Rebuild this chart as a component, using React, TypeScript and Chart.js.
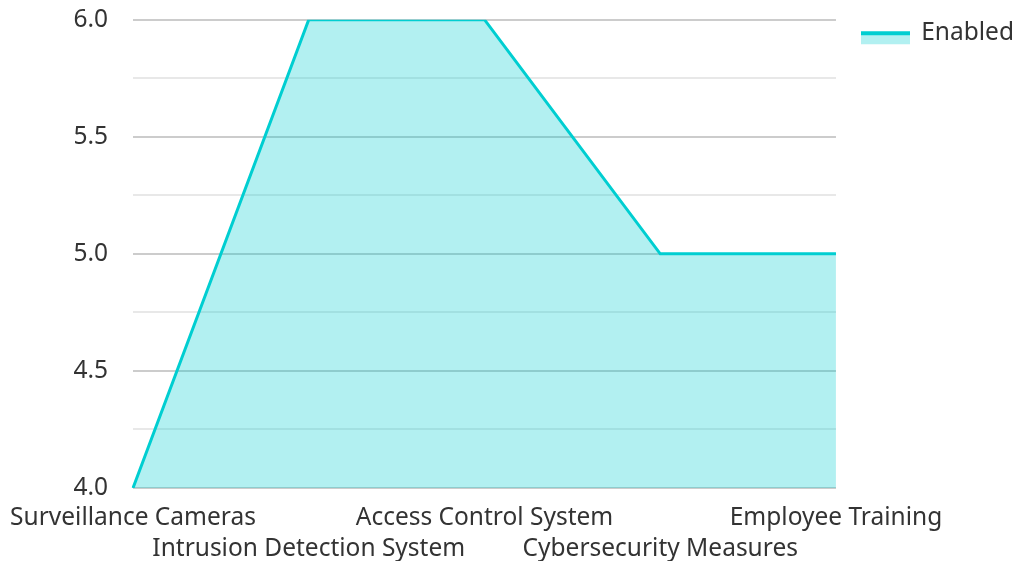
import React, { useEffect, useRef } from "react";
import { Chart, registerables } from "chart.js";

Chart.register(...registerables);

const categories = [
  "Surveillance Cameras",
  "Intrusion Detection System",
  "Access Control System",
  "Cybersecurity Measures",
  "Employee Training",
];
const enabledValues = [4, 6, 6, 5, 5];
const seriesName = "Enabled";
const yMin = 4;
const yMax = 6;

const LINE = "#00CED1";
const FILL = "rgba(0,206,209,0.3)";
const FONT = "'Noto Sans', sans-serif";
const FS = 24.5;

function makeLegendIcon(): HTMLCanvasElement {
  const c = document.createElement("canvas");
  c.width = 49;
  c.height = 28;
  const g = c.getContext("2d")!;
  g.fillStyle = FILL;
  g.fillRect(0, 16, 49, 9);
  g.fillStyle = LINE;
  g.fillRect(0, 12, 49, 4);
  return c;
}

export default function App() {
  const ref = useRef<HTMLCanvasElement | null>(null);

  useEffect(() => {
    if (!ref.current) return;
    const labels = categories.map((c, i) => (i % 2 === 1 ? ["", c] : [c]));
    const icon = makeLegendIcon();
    const chart = new Chart(ref.current, {
      type: "line",
      data: {
        labels,
        datasets: [
          {
            label: seriesName,
            data: enabledValues,
            borderColor: LINE,
            backgroundColor: FILL,
            borderWidth: 3,
            pointRadius: 0,
            tension: 0,
            fill: "start",
            pointStyle: icon as any,
          },
        ],
      },
      options: {
        animation: false,
        responsive: true,
        maintainAspectRatio: false,
        layout: { padding: { top: -5, right: -7, left: 0, bottom: -6 } },
        plugins: {
          tooltip: { enabled: false },
          legend: {
            position: "right",
            align: "start",
            labels: {
              usePointStyle: true,
              pointStyleWidth: 47,
              boxHeight: 14,
              padding: 26,
              color: "#333",
              font: { family: FONT, size: FS },
            },
          },
        },
        scales: {
          x: {
            offset: false,
            grid: { display: false, drawTicks: true, tickLength: 13 },
            border: { display: false },
            ticks: {
              autoSkip: false,
              maxRotation: 0,
              minRotation: 0,
              color: "#333",
              padding: 2,
              font: { family: FONT, size: FS, lineHeight: 1.265 },
            },
          },
          y: {
            min: yMin,
            max: yMax,
            border: { display: false },
            grid: {
              drawTicks: true,
              tickLength: 20,
              tickColor: "rgba(0,0,0,0)",
              lineWidth: 2,
              color: (ctx: any) =>
                ctx.tick && Math.abs((ctx.tick.value * 2) % 1) < 1e-9 ? "#cccccc" : "#e8e8e8",
            },
            afterFit: (scale: any) => {
              scale.width = 133;
            },
            ticks: {
              stepSize: 0.25,
              padding: 5,
              color: "#333",
              font: { family: FONT, size: FS },
              callback: (v: any) => {
                const n = Number(v);
                return Math.abs((n * 2) % 1) < 1e-9 ? n.toFixed(1) : "";
              },
            },
          },
        },
      },
    });
    return () => chart.destroy();
  }, []);

  return (
    <div style={{ position: "fixed", left: 0, top: 0, width: 1017, height: 561, background: "#fff" }}>
      <canvas ref={ref} />
    </div>
  );
}
